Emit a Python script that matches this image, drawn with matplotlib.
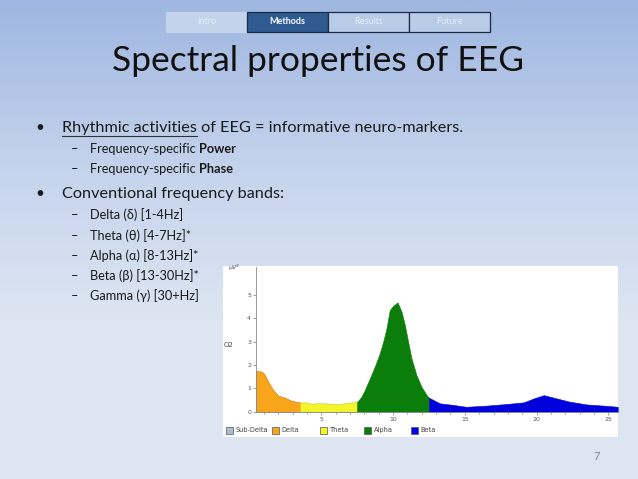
import numpy as np
import matplotlib
matplotlib.use('Agg')
import matplotlib.pyplot as plt
from matplotlib.patches import Rectangle
from matplotlib.colors import LinearSegmentedColormap

# ---------------- data ----------------
freq = [0.45, 0.84, 1.03, 1.3, 1.65, 2.0, 2.47, 2.93, 3.5, 3.98, 4.33, 4.8, 5.49, 6.19, 6.66, 7.12,
        7.5, 7.79, 8.03, 8.38, 8.72, 9.07, 9.31, 9.54, 9.77, 10.0, 10.31, 10.59, 10.82, 11.05,
        11.28, 11.63, 11.98, 12.33, 12.5,
        13.25, 14.2, 15.1, 16.5, 17.9, 19.1, 19.8, 20.5, 21.2, 22.3, 23.5, 24.7, 25.65]
power = [1.75, 1.72, 1.62, 1.29, 0.93, 0.69, 0.60, 0.47, 0.40, 0.40, 0.34, 0.37, 0.35, 0.33, 0.36, 0.40,
         0.42, 0.64, 0.93, 1.43, 1.93, 2.5, 3.0, 3.58, 4.36, 4.54, 4.69, 4.29, 3.72, 3.0,
         2.29, 1.57, 1.07, 0.72, 0.60,
         0.36, 0.29, 0.21, 0.26, 0.33, 0.40, 0.57, 0.71, 0.60, 0.43, 0.31, 0.26, 0.21]
band_names = ['Sub-Delta', 'Delta', 'Theta', 'Alpha', 'Beta']
band_edges = [0.0, 0.45, 3.5, 7.5, 12.5, 25.65]
band_colors = ['#a9bcd6', '#f9a51c', '#f4f42c', '#0b7d0b', '#0000dc']
band_edgecolors = ['#7f8fa6', '#c07a10', '#c8c820', '#0b7d0b', '#0000dc']

tabs = ['Intro', 'Methods', 'Results', 'Future']
active_tab = 'Methods'
title = 'Spectral properties of EEG'
sub1 = [('Frequency-specific ', 'Power'), ('Frequency-specific ', 'Phase')]
bands_text = ['Delta (δ) [1-4Hz]', 'Theta (θ) [4-7Hz]*', 'Alpha (α) [8-13Hz]*',
              'Beta (β) [13-30Hz]*', 'Gamma (γ) [30+Hz]']
page_number = '7'

FONT = 'Lato'
W, H = 638, 479
fig = plt.figure(figsize=(W / 100, H / 100), dpi=100)

# background gradient
bg = fig.add_axes([0, 0, 1, 1])
bg.set_xlim(0, W)
bg.set_ylim(H, 0)
bg.axis('off')
cmap = LinearSegmentedColormap.from_list('bg', ['#9fb6e0', '#c3d2ec', '#dde5f2', '#dfe6f3'])
grad = np.linspace(0, 1, 256).reshape(-1, 1)
bg.imshow(grad, cmap=cmap, extent=[0, W, H, 0], aspect='auto', zorder=0)

# tabs
tab_x = [166, 247, 328, 409]
for i, name in enumerate(tabs):
    active = name == active_tab
    if i == 0:
        fc, ec, tc = '#c3d3ec', '#c3d3ec', '#e8eef8'
    elif active:
        fc, ec, tc = '#2f5b92', '#1b2a40', 'white'
    else:
        fc, ec, tc = '#b8cbe7', '#1b2a40', '#e8eef8'
    bg.add_patch(Rectangle((tab_x[i], 11.5), 81, 20, facecolor=fc, edgecolor=ec, lw=0.9, zorder=2))
    bg.text(tab_x[i] + 40.5, 21.5, name, ha='center', va='center', fontsize=6.5,
            color=tc, family=FONT, fontweight='bold' if active else 'normal', zorder=3)

# title
bg.text(318.5, 61, title, ha='center', va='center', fontsize=25.5, family=FONT, color='#111111')

# bullets
def bullet_line(x, y, parts, size):
    """parts: list of (text, weight, underline)"""
    prev = None
    arts = []
    for txt, weight, ul in parts:
        if prev is None:
            t = bg.text(x, y, txt, ha='left', va='baseline', fontsize=size, family=FONT,
                        fontweight=weight, color='#1a1a1a')
        else:
            t = bg.annotate(txt, xy=(1, 0), xycoords=prev, ha='left', va='bottom',
                            fontsize=size, family=FONT, fontweight=weight, color='#1a1a1a')
        arts.append((t, ul))
        prev = t
    return arts

MAIN = 11.7
SUB = 9.2
under = []
bg.text(40, 132, '•', ha='center', va='baseline', fontsize=11, family=FONT, color='#1a1a1a')
under += bullet_line(62, 132, [('Rhythmic activities', 'normal', True),
                               (' of EEG = informative neuro-markers.', 'normal', False)], MAIN)
sub_y = [153, 173]
for (a, b), y in zip(sub1, sub_y):
    bg.text(75, y, '–', ha='center', va='baseline', fontsize=SUB, family=FONT, color='#1a1a1a')
    bullet_line(90, y, [(a, 'normal', False), (b, 'bold', False)], SUB)

bg.text(40, 198, '•', ha='center', va='baseline', fontsize=11, family=FONT, color='#1a1a1a')
bg.text(62, 198, 'Conventional frequency bands:', ha='left', va='baseline', fontsize=MAIN,
        family=FONT, color='#1a1a1a')
band_y = [219, 240, 260, 280, 300]
for txt, y in zip(bands_text, band_y):
    bg.text(75, y, '–', ha='center', va='baseline', fontsize=SUB, family=FONT, color='#1a1a1a')
    bg.text(90, y, txt, ha='left', va='baseline', fontsize=SUB, family=FONT, color='#1a1a1a')

bg.text(597, 457, page_number, ha='center', va='center', fontsize=8, family=FONT, color='#7f8896')

# chart white panel
bg.add_patch(Rectangle((223, 266), 395, 171, facecolor='white', edgecolor='none', zorder=1))

# chart axes
ax = fig.add_axes([256 / W, 1 - 411.7 / H, (617.7 - 256) / W, (411.7 - 266.7) / H])
ax.set_facecolor('none')
f = np.array(freq)
p = np.array(power)
for name, lo, hi, c, ec in zip(band_names, band_edges[:-1], band_edges[1:], band_colors, band_edgecolors):
    m = (f >= lo) & (f <= hi)
    if m.sum() >= 2:
        ax.fill_between(f[m], 0, p[m], facecolor=c, edgecolor=ec, lw=0.4)
ax.set_xlim(0.45, 25.65)
ax.set_ylim(0, 6.22)
for s in ['top', 'right']:
    ax.spines[s].set_visible(False)
for s in ['left', 'bottom']:
    ax.spines[s].set_color('#888888')
    ax.spines[s].set_linewidth(0.6)
ax.set_xticks([5, 10, 15, 20, 25])
ax.set_xticks(np.arange(1, 26), minor=True)
ax.set_yticks([0, 1, 2, 3, 4, 5])
ax.tick_params(axis='both', which='both', colors='#777777', labelcolor='#555555',
               labelsize=4.5, length=2, width=0.5, pad=1.5)
ax.tick_params(axis='x', which='minor', length=1.5)
ax.text(-0.045, 1.0, 'µV²', transform=ax.transAxes, ha='right', va='center',
        fontsize=4.5, color='#555555', family='DejaVu Sans')
bg.text(224, 345, 'O2', ha='left', va='center', fontsize=5, color='#444444', family='DejaVu Sans')

# legend
leg_x = [226, 272, 320, 364, 411]
for name, c, x in zip(band_names, band_colors, leg_x):
    bg.add_patch(Rectangle((x, 426.5), 7, 7, facecolor=c, edgecolor='#555555', lw=0.5, zorder=3))
    bg.text(x + 9.5, 430.3, name, ha='left', va='center', fontsize=4.8, color='#444444',
            family='DejaVu Sans', zorder=3)

# underline
fig.canvas.draw()
r = fig.canvas.get_renderer()
for t, ul in under:
    if ul:
        bb = t.get_window_extent(r)
        inv = bg.transData.inverted()
        (x0, _), (x1, _) = inv.transform([(bb.x0, bb.y0), (bb.x1, bb.y0)])
        bg.plot([x0, x1], [135.5, 135.5], color='#333333', lw=0.8, zorder=3)

fig.savefig('out.png', dpi=100)
